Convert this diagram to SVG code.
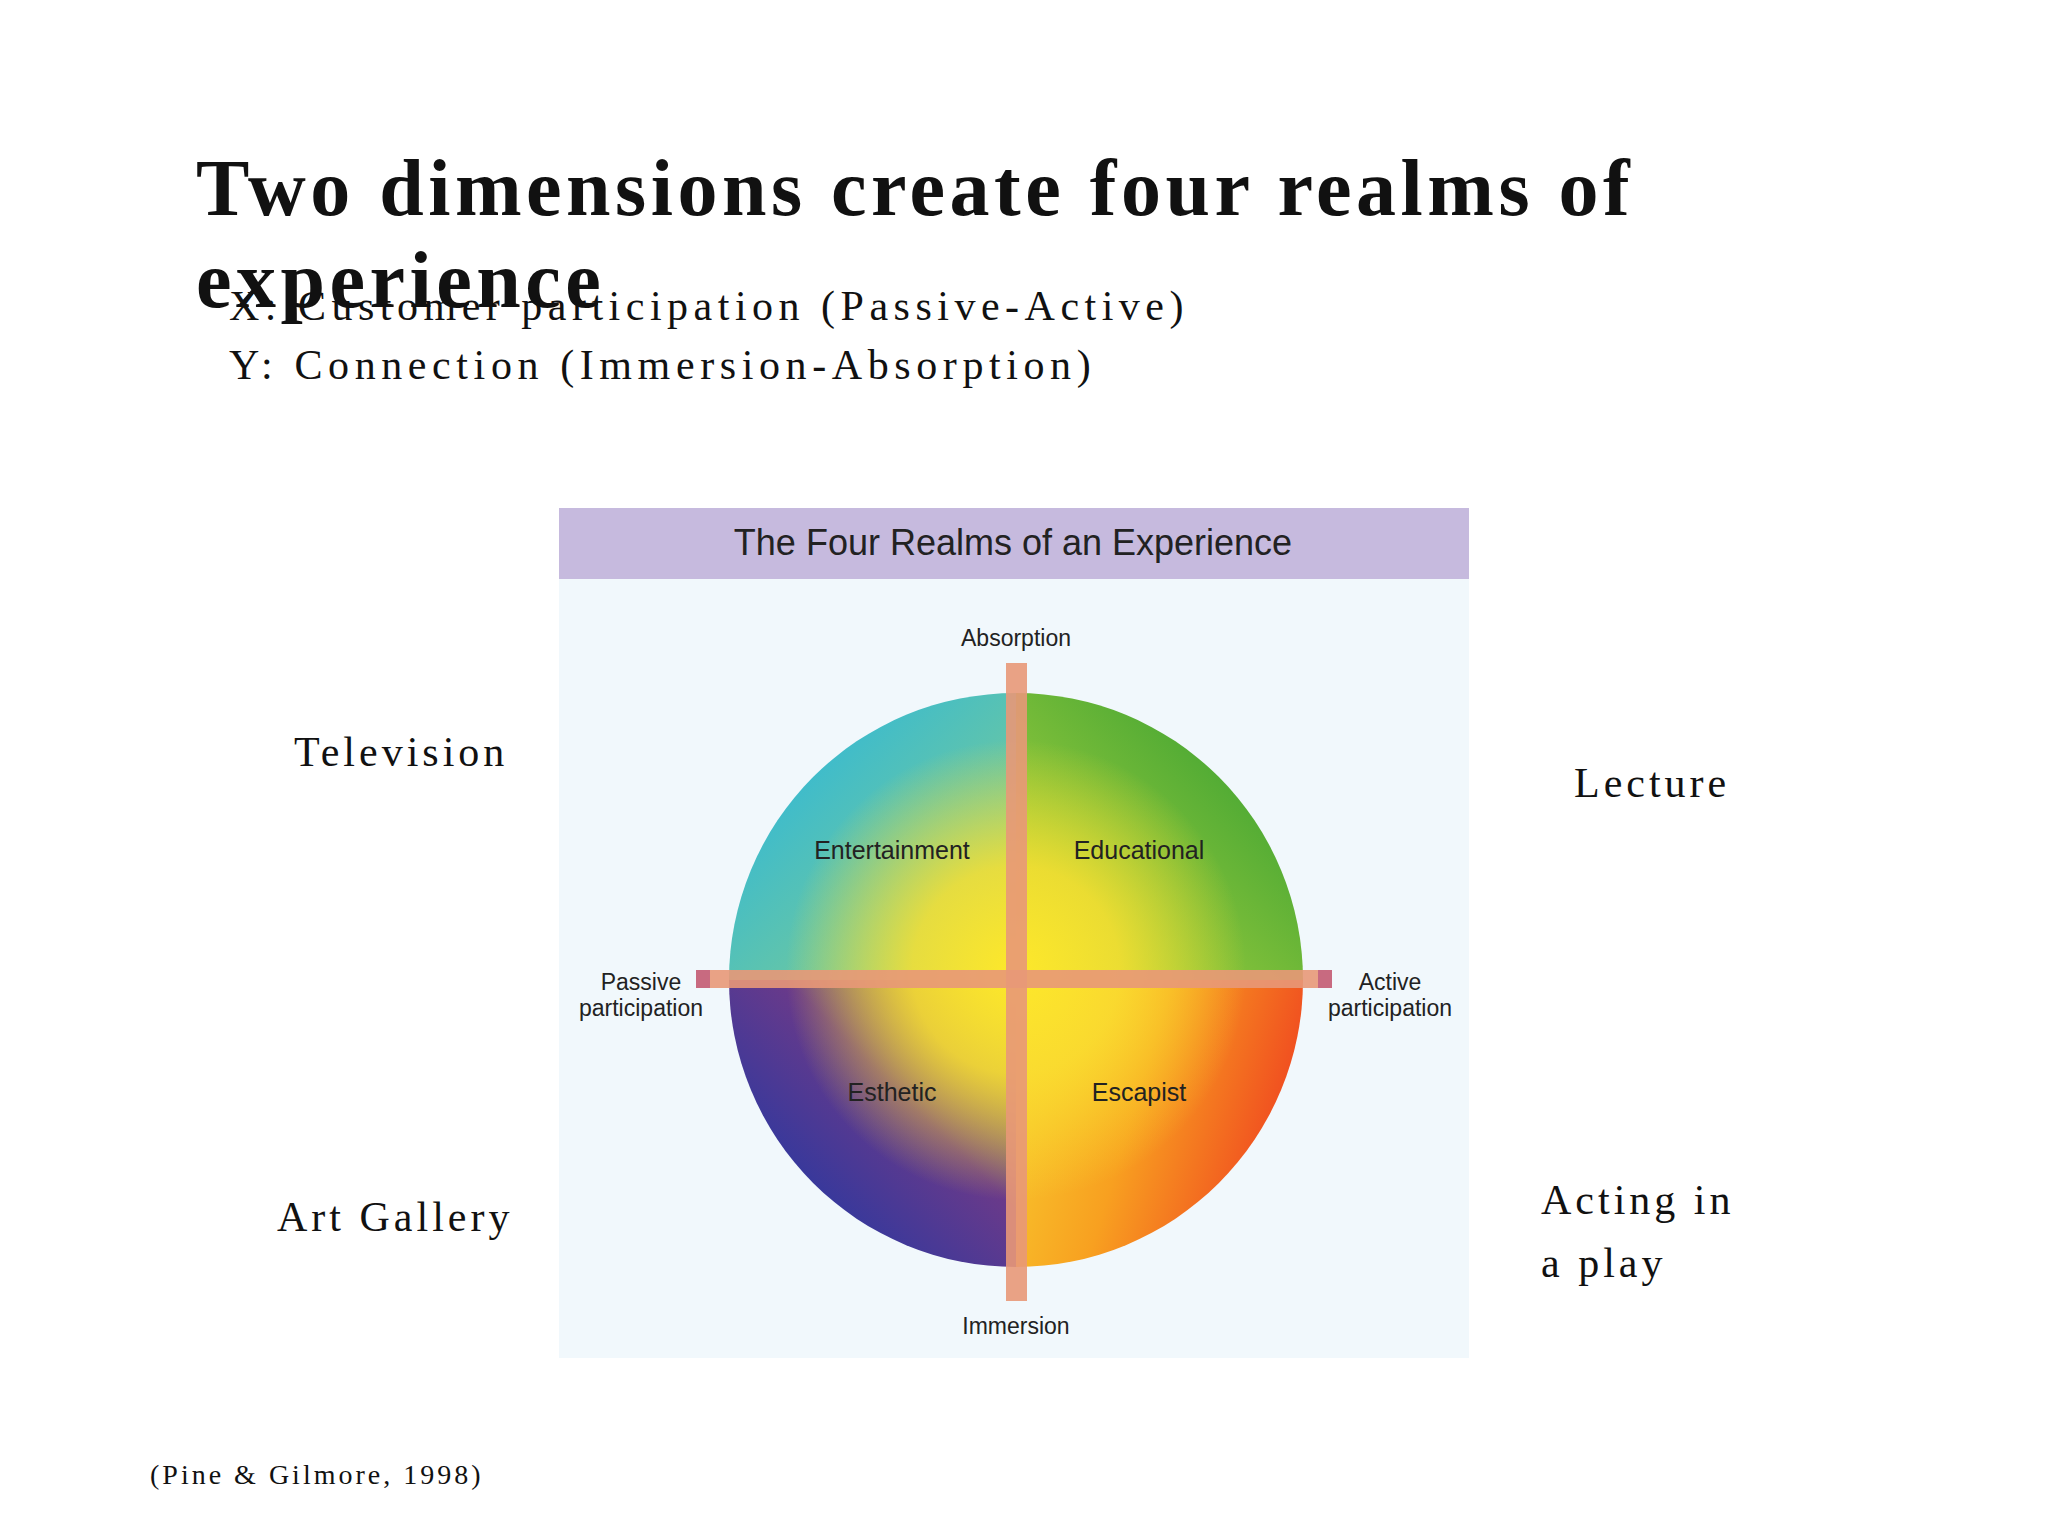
<svg xmlns="http://www.w3.org/2000/svg" width="2048" height="1536" viewBox="0 0 2048 1536">
<style>
.t{font-family:"Liberation Serif",serif;fill:#111}
.s{font-family:"Liberation Sans",Arial,sans-serif;fill:#222}
</style>
<defs>
<clipPath id="cc"><circle cx="1016" cy="980" r="287"/></clipPath>
<linearGradient id="gTL" x1="0" y1="0" x2="1" y2="1"><stop offset="0" stop-color="#20b4e8"/><stop offset="1" stop-color="#8fd080"/></linearGradient>
<linearGradient id="gTR" x1="1" y1="0" x2="0" y2="1"><stop offset="0" stop-color="#2a9a30"/><stop offset="1" stop-color="#b8d840"/></linearGradient>
<linearGradient id="gBR" x1="1" y1="0.3" x2="0" y2="0"><stop offset="0" stop-color="#f04a20"/><stop offset="0.5" stop-color="#f8a020"/><stop offset="1" stop-color="#f8d030"/></linearGradient>
<linearGradient id="gBL" x1="0" y1="1" x2="1" y2="0"><stop offset="0.2" stop-color="#2a38a0"/><stop offset="0.6" stop-color="#6a3a8a"/><stop offset="1" stop-color="#c8c040"/></linearGradient>
<radialGradient id="gC" cx="1016" cy="970" r="230" gradientUnits="userSpaceOnUse"><stop offset="0" stop-color="#fde82a" stop-opacity="1"/><stop offset="0.45" stop-color="#fae030" stop-opacity="0.85"/><stop offset="1" stop-color="#fae030" stop-opacity="0"/></radialGradient>
</defs>
<rect width="2048" height="1536" fill="#fff"/>
<g id="title">
<text class="t" x="196" y="215" font-size="80" font-weight="bold" letter-spacing="4.5">Two dimensions create four realms of</text>
<text class="t" x="196" y="307" font-size="80" font-weight="bold" letter-spacing="4.5">experience</text>
<text class="t" x="229" y="320" font-size="42" letter-spacing="5.5">X: Customer participation (Passive-Active)</text>
<text class="t" x="229" y="379" font-size="42" letter-spacing="5.6">Y: Connection (Immersion-Absorption)</text>
</g>
<g id="figure">
<rect x="559" y="508" width="910" height="850" fill="#f1f8fc"/>
<rect x="559" y="508" width="910" height="71" fill="#c6bade"/>
<text class="s" x="1013" y="555" font-size="36" text-anchor="middle">The Four Realms of an Experience</text>
<g clip-path="url(#cc)">
<rect x="729" y="693" width="287" height="287" fill="url(#gTL)"/>
<rect x="1016" y="693" width="287" height="287" fill="url(#gTR)"/>
<rect x="1016" y="980" width="287" height="287" fill="url(#gBR)"/>
<rect x="729" y="980" width="287" height="287" fill="url(#gBL)"/>
<circle cx="1016" cy="970" r="240" fill="url(#gC)"/>
</g>
<rect x="1006" y="663" width="21" height="638" fill="#e89878" opacity="0.9"/>
<rect x="696" y="970" width="636" height="18" fill="#e89878" opacity="0.9"/>
<rect x="696" y="970" width="14" height="18" fill="#c86a80"/>
<rect x="1318" y="970" width="14" height="18" fill="#c86a80"/>
<text class="s" x="1016" y="646" font-size="23" text-anchor="middle">Absorption</text>
<text class="s" x="1016" y="1334" font-size="23" text-anchor="middle">Immersion</text>
<text class="s" x="641" y="990" font-size="23" text-anchor="middle">Passive</text>
<text class="s" x="641" y="1016" font-size="23" text-anchor="middle">participation</text>
<text class="s" x="1390" y="990" font-size="23" text-anchor="middle">Active</text>
<text class="s" x="1390" y="1016" font-size="23" text-anchor="middle">participation</text>
<text class="s" x="892" y="859" font-size="25" text-anchor="middle">Entertainment</text>
<text class="s" x="1139" y="859" font-size="25" text-anchor="middle">Educational</text>
<text class="s" x="892" y="1101" font-size="25" text-anchor="middle">Esthetic</text>
<text class="s" x="1139" y="1101" font-size="25" text-anchor="middle">Escapist</text>
</g>
<g id="labels">
<text class="t" x="294" y="766" font-size="42" letter-spacing="4">Television</text>
<text class="t" x="1574" y="797" font-size="42" letter-spacing="4">Lecture</text>
<text class="t" x="277" y="1231" font-size="42" letter-spacing="4">Art Gallery</text>
<text class="t" x="1541" y="1214" font-size="42" letter-spacing="4">Acting in</text>
<text class="t" x="1541" y="1277" font-size="42" letter-spacing="4">a play</text>
<text class="t" x="150" y="1484" font-size="28" letter-spacing="3">(Pine &amp; Gilmore, 1998)</text>
</g>
</svg>
